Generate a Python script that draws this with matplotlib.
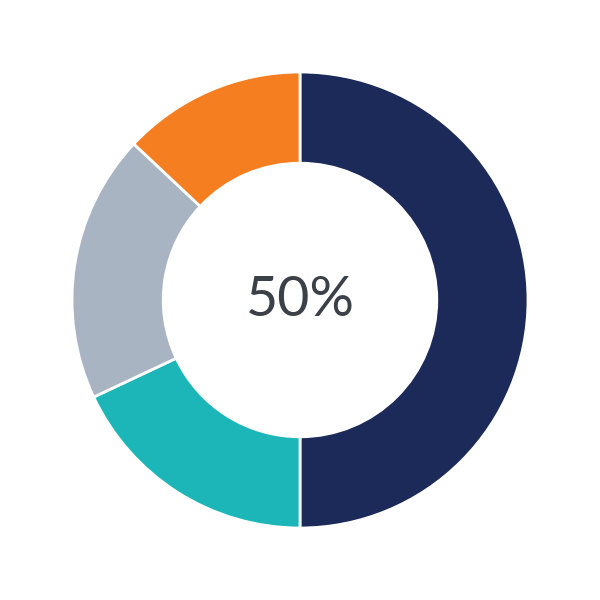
import matplotlib.pyplot as plt

# Share of each segment (clockwise from the top)
labels = ['Navy', 'Teal', 'Gray', 'Orange']
values = [50, 18, 19, 13]
colors = ['#1c2a59', '#1db6b8', '#a9b4c3', '#f47e20']
center_text = '50%'

fig = plt.figure(figsize=(6, 6), dpi=100)
ax = fig.add_axes([0, 0, 1, 1])

ax.pie(values, colors=colors, startangle=90, counterclock=False,
       radius=1.0,
       wedgeprops=dict(width=0.4, edgecolor='white', linewidth=2))

ax.text(0, 0, center_text, ha='center', va='center',
        fontsize=40, family=['Lato', 'DejaVu Sans'], color='#3b4049')

lim = 300 / 228
ax.set_xlim(-lim, lim)
ax.set_ylim(-lim, lim)
ax.set_aspect('equal')
ax.axis('off')

fig.savefig('out.png', dpi=100, facecolor='white')
